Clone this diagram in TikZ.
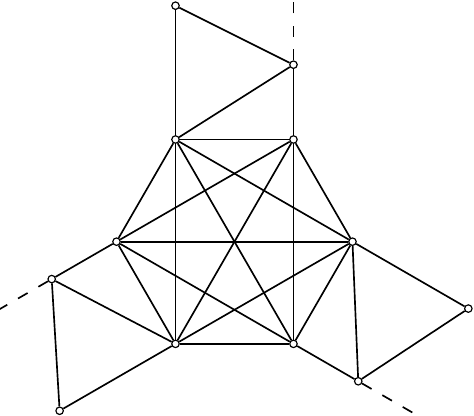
\documentclass[tikz,border=0pt]{standalone}
\usepackage{tikz}

\begin{document}
\begin{tikzpicture}[scale = 1,
	vertice/.style = {circle, draw = black, fill = white, line width = 0.85pt, inner sep = 0pt, minimum size = 0.19cm},
	aresta/.style = {solid, black, line width = 1.2pt},
	tracejada/.style = {black, line width = 1.2pt, dash pattern = on 8pt off 9pt}]

	\useasboundingbox (-5.962, -4.432) rectangle (6.090, 6.145);
	\clip (-5.962, -4.432) rectangle (6.090, 6.145);


	%%% HEXÁGONO %%%

	\node[vertice] (h1) at (-1.5,  2.598) {};
	\node[vertice] (h2) at ( 1.5,  2.598) {};
	\node[vertice] (h3) at ( 3.0,  0.000) {};
	\node[vertice] (h4) at ( 1.5, -2.598) {};
	\node[vertice] (h5) at (-1.5, -2.598) {};
	\node[vertice] (h6) at (-3.0,  0.000) {};

	\foreach \i/\j in {1/2, 1/3, 1/4, 1/5, 1/6, 2/3, 2/4, 2/5, 2/6, 3/4, 3/5, 3/6, 4/5, 4/6, 5/6}
		\draw[aresta] (h\i) -- (h\j); % Grafo completo


	%%% TRIÂNGULOS EXTERNOS %%%

	\node[vertice] (t1) at (-1.500,  6.000) {};
	\node[vertice] (t2) at ( 1.500,  4.500) {};
	\node[vertice] (l1) at (-4.446, -4.299) {};
	\node[vertice] (l2) at (-4.647, -0.951) {};
	\node[vertice] (r1) at ( 5.946, -1.701) {};
	\node[vertice] (r2) at ( 3.147, -3.549) {};

	\draw[aresta] (t1) -- (h1);
	\draw[aresta] (t1) -- (t2);
	\draw[aresta] (t2) -- (h1);
	\draw[aresta] (t2) -- (h2);

	\draw[aresta] (l1) -- (h5);
	\draw[aresta] (l1) -- (l2);
	\draw[aresta] (l2) -- (h5);
	\draw[aresta] (l2) -- (h6);

	\draw[aresta] (r1) -- (h3);
	\draw[aresta] (r1) -- (r2);
	\draw[aresta] (r2) -- (h3);
	\draw[aresta] (r2) -- (h4);

	\coordinate (ft) at ( 1.500,  6.600);
	\coordinate (fl) at (-6.379, -1.951);
	\coordinate (fr) at ( 4.879, -4.549);

	\draw[tracejada] (t2) -- (ft);
	\draw[tracejada] (l2) -- (fl);
	\draw[tracejada] (r2) -- (fr);


\end{tikzpicture}
\end{document}
